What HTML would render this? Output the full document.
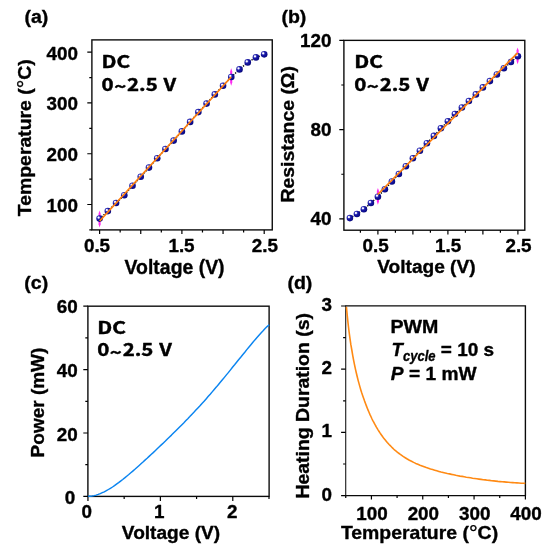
<!DOCTYPE html>
<html lang="en"><head><meta charset="utf-8"><title>Figure</title>
<style>
html,body{margin:0;padding:0;background:#fff;}
svg{display:block}
text{font-family:"Liberation Sans", Arial, Helvetica, sans-serif;font-weight:700;fill:#000;stroke:#000;stroke-width:0.35px;stroke-linejoin:round}
.tk{font-size:19.0px}
.tkx{font-size:18.3px}
.axr{font-size:18.5px}
.axs{font-size:18.3px}
.ax{font-size:19.8px}
.pn{font-size:18.9px}
.kr{font-family:"Noto Sans CJK KR", "Liberation Sans", sans-serif;font-weight:700;font-size:17.5px;stroke-width:0.4px}
.an{font-size:18px}
.dg{font-size:20.5px;font-weight:400}
.fr{fill:none;stroke:#0a0a0a;stroke-width:1.38}
.t{stroke:#000;stroke-width:1.2;fill:none}
</style></head><body>
<svg width="547" height="550" viewBox="0 0 547 550">
<defs>
<radialGradient id="ball" cx="0.35" cy="0.34" r="0.74">
<stop offset="0" stop-color="#ffffff"/><stop offset="0.13" stop-color="#f4f4ff"/><stop offset="0.3" stop-color="#4040c0"/><stop offset="0.45" stop-color="#1616a0"/><stop offset="0.75" stop-color="#0c0c90"/><stop offset="1" stop-color="#060670"/>
</radialGradient>
</defs>
<rect width="547" height="550" fill="#fff"/>

<rect class="fr" x="91.89" y="39.89" width="180.37" height="190.01"/>
<path class="t" d="M99.60 229.9v4.2M140.75 229.9v4.2M181.90 229.9v4.2M223.05 229.9v4.2M264.20 229.9v4.2"/>
<path class="t" d="M120.17 229.9v2.6M161.32 229.9v2.6M202.47 229.9v2.6M243.62 229.9v2.6"/>
<path class="t" d="M91.89 204.50h-4.6M91.89 153.73h-4.6M91.89 102.96h-4.6M91.89 52.19h-4.6"/>
<path class="t" d="M91.89 229.88h-2.6M91.89 179.12h-2.6M91.89 128.34h-2.6M91.89 77.57h-2.6"/>
<text class="tkx" transform="translate(97.00 251.60) scale(1.03 1)" text-anchor="middle">0.5</text>
<text class="tkx" transform="translate(181.50 251.60) scale(1.03 1)" text-anchor="middle">1.5</text>
<text class="tkx" transform="translate(264.90 251.60) scale(1.03 1)" text-anchor="middle">2.5</text>
<text class="tk" transform="translate(78.00 211.90) scale(0.992 1)" text-anchor="end">100</text>
<text class="tk" transform="translate(78.00 161.13) scale(0.992 1)" text-anchor="end">200</text>
<text class="tk" transform="translate(78.00 110.36) scale(0.992 1)" text-anchor="end">300</text>
<text class="tk" transform="translate(78.00 59.59) scale(0.992 1)" text-anchor="end">400</text>
<text class="axr" transform="translate(30.90 137.70) rotate(-90) scale(1.05 1)" text-anchor="middle">Temperature (<tspan class="dg" dy="1">°</tspan><tspan dy="-1">C)</tspan></text>
<text class="ax" transform="translate(174.60 273.90) scale(0.981 1)" text-anchor="middle">Voltage (V)</text>
<text class="pn" transform="translate(24.40 22.80) scale(1.035 1)" text-anchor="start">(a)</text>
<text class="kr" transform="translate(101.60 68.30) scale(1.2 1)" text-anchor="start">DC</text>
<text class="kr" transform="translate(101.60 90.80) scale(1.17 1)" text-anchor="start">0<tspan dy="2.5" dx="0.5">~</tspan><tspan dy="-2.5" dx="0.6">2.5</tspan><tspan dx="0.9"> V</tspan></text>
<polyline fill="none" stroke="#000" stroke-width="1.35" stroke-dasharray="1.3 1.35" points="99.6,218.6 107.8,211.1 116.1,203.0 124.3,195.3 132.5,185.8 140.8,176.8 149.0,167.6 157.2,158.3 165.4,149.0 173.7,140.6 181.9,131.4 190.1,121.9 198.4,112.1 206.6,103.6 214.8,94.4 223.0,85.8 231.3,77.0 239.5,69.4 247.7,62.4 256.0,57.4 264.2,54.4"/>
<path d="M99.6 210.6l1.05 3.2V224.3L99.6 227.5l-1.05 -3.2V213.79999999999998z" fill="#ff2af2"/>
<path d="M231.2 68.3l1.05 3.2V82.5L231.2 85.7l-1.05 -3.2V71.5z" fill="#ff2af2"/>
<circle cx="99.60" cy="218.60" r="3.3" fill="url(#ball)"/>
<circle cx="107.83" cy="211.10" r="3.3" fill="url(#ball)"/>
<circle cx="116.06" cy="203.00" r="3.3" fill="url(#ball)"/>
<circle cx="124.29" cy="195.30" r="3.3" fill="url(#ball)"/>
<circle cx="132.52" cy="185.80" r="3.3" fill="url(#ball)"/>
<circle cx="140.75" cy="176.80" r="3.3" fill="url(#ball)"/>
<circle cx="148.98" cy="167.60" r="3.3" fill="url(#ball)"/>
<circle cx="157.21" cy="158.30" r="3.3" fill="url(#ball)"/>
<circle cx="165.44" cy="149.00" r="3.3" fill="url(#ball)"/>
<circle cx="173.67" cy="140.60" r="3.3" fill="url(#ball)"/>
<circle cx="181.90" cy="131.40" r="3.3" fill="url(#ball)"/>
<circle cx="190.13" cy="121.90" r="3.3" fill="url(#ball)"/>
<circle cx="198.36" cy="112.10" r="3.3" fill="url(#ball)"/>
<circle cx="206.59" cy="103.60" r="3.3" fill="url(#ball)"/>
<circle cx="214.82" cy="94.40" r="3.3" fill="url(#ball)"/>
<circle cx="223.05" cy="85.80" r="3.3" fill="url(#ball)"/>
<circle cx="231.28" cy="77.00" r="3.3" fill="url(#ball)"/>
<circle cx="239.51" cy="69.40" r="3.3" fill="url(#ball)"/>
<circle cx="247.74" cy="62.40" r="3.3" fill="url(#ball)"/>
<circle cx="255.97" cy="57.40" r="3.3" fill="url(#ball)"/>
<circle cx="264.20" cy="54.35" r="3.3" fill="url(#ball)"/>
<path d="M99.7 221L231.2 77" stroke="#ff7f0e" stroke-width="1.75" fill="none"/>
<rect class="fr" x="343.9" y="40.37" width="180.89999999999998" height="189.82999999999998"/>
<path class="t" d="M377.90 230.2v4.2M412.90 230.2v4.2M447.90 230.2v4.2M482.90 230.2v4.2M517.90 230.2v4.2"/>
<path class="t" d="M360.40 230.2v2.6M395.40 230.2v2.6M430.40 230.2v2.6M465.40 230.2v2.6M500.40 230.2v2.6"/>
<path class="t" d="M343.9 218.85h-4.6M343.9 129.61h-4.6M343.9 40.37h-4.6"/>
<path class="t" d="M343.9 174.23h-2.6M343.9 84.99h-2.6"/>
<text class="tkx" transform="translate(375.70 251.60) scale(1.03 1)" text-anchor="middle">0.5</text>
<text class="tkx" transform="translate(448.10 251.60) scale(1.03 1)" text-anchor="middle">1.5</text>
<text class="tkx" transform="translate(518.50 251.60) scale(1.03 1)" text-anchor="middle">2.5</text>
<text class="tkx" transform="translate(331.50 225.35) scale(1.03 1)" text-anchor="end">40</text>
<text class="tkx" transform="translate(331.50 136.11) scale(1.03 1)" text-anchor="end">80</text>
<text class="tkx" transform="translate(331.50 46.87) scale(1.03 1)" text-anchor="end">120</text>
<text class="axr" transform="translate(293.50 134.30) rotate(-90) scale(1.05 1)" text-anchor="middle">Resistance (Ω)</text>
<text class="axs" transform="translate(426.40 273.20) scale(1.045 1)" text-anchor="middle">Voltage (V)</text>
<text class="pn" transform="translate(281.40 22.80) scale(1.035 1)" text-anchor="start">(b)</text>
<text class="kr" transform="translate(354.20 68.10) scale(1.2 1)" text-anchor="start">DC</text>
<text class="kr" transform="translate(354.20 90.70) scale(1.17 1)" text-anchor="start">0<tspan dy="2.5" dx="0.5">~</tspan><tspan dy="-2.5" dx="0.6">2.5</tspan><tspan dx="0.9"> V</tspan></text>
<polyline fill="none" stroke="#000" stroke-width="1.35" stroke-dasharray="1.3 1.35" points="349.9,218.1 356.9,214.0 363.9,209.3 370.9,203.0 377.9,196.7 384.9,189.3 391.9,181.5 398.9,174.0 405.9,166.3 412.9,158.3 419.9,150.7 426.9,143.2 433.9,135.9 440.9,128.3 447.9,121.3 454.9,114.0 461.9,107.5 468.9,101.0 475.9,94.4 482.9,87.4 489.9,81.1 496.9,74.5 503.9,68.3 510.9,62.0 517.9,56.2"/>
<path d="M377.9 187.9l1.05 3.2V201.5L377.9 204.7l-1.05 -3.2V191.1z" fill="#ff2af2"/>
<path d="M517.6 47.4l1.05 3.2V61.05L517.6 64.25l-1.05 -3.2V50.6z" fill="#ff2af2"/>
<circle cx="349.90" cy="218.10" r="3.3" fill="url(#ball)"/>
<circle cx="356.90" cy="214.00" r="3.3" fill="url(#ball)"/>
<circle cx="363.90" cy="209.30" r="3.3" fill="url(#ball)"/>
<circle cx="370.90" cy="203.00" r="3.3" fill="url(#ball)"/>
<circle cx="377.90" cy="196.70" r="3.3" fill="url(#ball)"/>
<circle cx="384.90" cy="189.30" r="3.3" fill="url(#ball)"/>
<circle cx="391.90" cy="181.50" r="3.3" fill="url(#ball)"/>
<circle cx="398.90" cy="174.00" r="3.3" fill="url(#ball)"/>
<circle cx="405.90" cy="166.30" r="3.3" fill="url(#ball)"/>
<circle cx="412.90" cy="158.30" r="3.3" fill="url(#ball)"/>
<circle cx="419.90" cy="150.70" r="3.3" fill="url(#ball)"/>
<circle cx="426.90" cy="143.20" r="3.3" fill="url(#ball)"/>
<circle cx="433.90" cy="135.90" r="3.3" fill="url(#ball)"/>
<circle cx="440.90" cy="128.30" r="3.3" fill="url(#ball)"/>
<circle cx="447.90" cy="121.30" r="3.3" fill="url(#ball)"/>
<circle cx="454.90" cy="114.00" r="3.3" fill="url(#ball)"/>
<circle cx="461.90" cy="107.50" r="3.3" fill="url(#ball)"/>
<circle cx="468.90" cy="101.00" r="3.3" fill="url(#ball)"/>
<circle cx="475.90" cy="94.40" r="3.3" fill="url(#ball)"/>
<circle cx="482.90" cy="87.40" r="3.3" fill="url(#ball)"/>
<circle cx="489.90" cy="81.10" r="3.3" fill="url(#ball)"/>
<circle cx="496.90" cy="74.50" r="3.3" fill="url(#ball)"/>
<circle cx="503.90" cy="68.30" r="3.3" fill="url(#ball)"/>
<circle cx="510.90" cy="62.05" r="3.3" fill="url(#ball)"/>
<circle cx="517.90" cy="56.20" r="3.3" fill="url(#ball)"/>
<path d="M377.7 194.5L517.7 52.8" stroke="#ff7f0e" stroke-width="1.75" fill="none"/>
<rect class="fr" x="87.9" y="306.18" width="181.21" height="190.21999999999997"/>
<path class="t" d="M87.95 496.4v4.5M160.37 496.4v4.5M232.79 496.4v4.5"/>
<path class="t" d="M124.16 496.4v2.6M196.58 496.4v2.6M269.00 496.4v2.6"/>
<path class="t" d="M87.9 496.40h-4.6M87.9 432.99h-4.6M87.9 369.59h-4.6M87.9 306.18h-4.6"/>
<path class="t" d="M87.9 464.70h-2.6M87.9 401.29h-2.6M87.9 337.88h-2.6"/>
<text class="tkx" transform="translate(86.70 517.80) scale(1.03 1)" text-anchor="middle">0</text>
<text class="tkx" transform="translate(159.30 517.80) scale(1.03 1)" text-anchor="middle">1</text>
<text class="tkx" transform="translate(232.30 517.80) scale(1.03 1)" text-anchor="middle">2</text>
<text class="tkx" transform="translate(75.30 503.50) scale(1.03 1)" text-anchor="end">0</text>
<text class="tkx" transform="translate(77.70 440.60) scale(1.03 1)" text-anchor="end">20</text>
<text class="tkx" transform="translate(77.70 377.00) scale(1.03 1)" text-anchor="end">40</text>
<text class="tkx" transform="translate(77.70 312.80) scale(1.03 1)" text-anchor="end">60</text>
<text class="axr" transform="translate(44.40 402.50) rotate(-90) scale(1.027 1)" text-anchor="middle">Power (mW)</text>
<text class="axs" transform="translate(171.00 538.50) scale(1.045 1)" text-anchor="middle">Voltage (V)</text>
<text class="pn" transform="translate(24.30 289.10) scale(1.035 1)" text-anchor="start">(c)</text>
<text class="kr" transform="translate(97.20 333.70) scale(1.2 1)" text-anchor="start">DC</text>
<text class="kr" transform="translate(97.20 356.30) scale(1.17 1)" text-anchor="start">0<tspan dy="2.5" dx="0.5">~</tspan><tspan dy="-2.5" dx="0.6">2.5</tspan><tspan dx="0.9"> V</tspan></text>
<polyline fill="none" stroke="#0a84f0" stroke-width="1.45" stroke-linejoin="round" points="88.1,496.3 90.1,496.2 92.1,496.0 94.2,495.6 96.2,495.1 98.2,494.4 100.3,493.6 102.3,492.7 104.3,491.8 106.4,490.7 108.4,489.5 110.4,488.3 112.5,487.0 114.5,485.6 116.5,484.1 118.6,482.6 120.6,481.1 122.7,479.5 124.7,477.9 126.7,476.2 128.8,474.5 130.8,472.8 132.8,471.1 134.9,469.3 136.9,467.5 138.9,465.7 141.0,463.8 143.0,462.0 145.0,460.1 147.1,458.3 149.1,456.4 151.1,454.5 153.2,452.6 155.2,450.7 157.2,448.8 159.3,446.8 161.3,444.9 163.4,442.9 165.4,441.0 167.4,439.0 169.5,437.0 171.5,435.1 173.5,433.1 175.6,431.0 177.6,429.0 179.6,427.0 181.7,424.9 183.7,422.9 185.7,420.8 187.8,418.7 189.8,416.6 191.8,414.4 193.9,412.3 195.9,410.1 197.9,407.9 200.0,405.7 202.0,403.4 204.1,401.2 206.1,398.9 208.1,396.6 210.2,394.3 212.2,391.9 214.2,389.5 216.3,387.1 218.3,384.7 220.3,382.3 222.4,379.8 224.4,377.4 226.4,374.9 228.5,372.4 230.5,369.9 232.5,367.3 234.6,364.8 236.6,362.3 238.6,359.7 240.7,357.2 242.7,354.7 244.8,352.2 246.8,349.6 248.8,347.2 250.9,344.7 252.9,342.3 254.9,339.9 257.0,337.5 259.0,335.2 261.0,332.9 263.1,330.8 265.1,328.6 267.1,326.6 269.2,324.7"/>
<path class="fr" d="M345.7 305.9H525.4V495.6H345.7"/>
<path d="M345.7 305.29999999999995V496.20000000000005" stroke="#222" stroke-width="1.15" fill="none"/>
<path class="t" d="M371.42 495.6v4.0M422.75 495.6v4.0M474.07 495.6v4.0M525.40 495.6v4.0"/>
<path class="t" d="M345.75 495.6v2.4M397.08 495.6v2.4M448.41 495.6v2.4M499.74 495.6v2.4"/>
<path class="t" d="M345.7 495.60h-4.6M345.7 432.40h-4.6M345.7 369.20h-4.6M345.7 306.00h-4.6"/>
<path class="t" d="M345.7 464.00h-2.6M345.7 400.80h-2.6M345.7 337.60h-2.6"/>
<text class="tkx" transform="translate(372.02 519.80) scale(1.03 1)" text-anchor="middle">100</text>
<text class="tkx" transform="translate(423.35 519.80) scale(1.03 1)" text-anchor="middle">200</text>
<text class="tkx" transform="translate(474.68 519.80) scale(1.03 1)" text-anchor="middle">300</text>
<text class="tkx" transform="translate(526.00 519.80) scale(1.03 1)" text-anchor="middle">400</text>
<text class="tkx" transform="translate(332.00 500.90) scale(1.03 1)" text-anchor="end">0</text>
<text class="tkx" transform="translate(332.00 437.00) scale(1.03 1)" text-anchor="end">1</text>
<text class="tkx" transform="translate(332.00 374.00) scale(1.03 1)" text-anchor="end">2</text>
<text class="tkx" transform="translate(332.00 310.50) scale(1.03 1)" text-anchor="end">3</text>
<text class="axr" transform="translate(308.60 405.80) rotate(-90) scale(1.05 1)" text-anchor="middle">Heating Duration (s)</text>
<text class="axs" transform="translate(419.50 538.50) scale(1.062 1)" text-anchor="middle">Temperature (<tspan class="dg" dy="1">°</tspan><tspan dy="-1">C)</tspan></text>
<text class="pn" transform="translate(287.40 289.10) scale(1.035 1)" text-anchor="start">(d)</text>
<text class="an" transform="translate(390.50 333.30) scale(1.09 1)" text-anchor="start">PWM</text>
<text class="an" transform="translate(391.50 355.90) scale(1.03 1)" text-anchor="start"><tspan font-style="italic">T</tspan></text>
<text class="an" transform="translate(403.00 361.00) scale(0.855 1)" text-anchor="start"><tspan font-style="italic" font-size="15.2">cycle</tspan></text>
<text class="an" transform="translate(440.80 355.90) scale(1.055 1)" text-anchor="start">= 10 s</text>
<text class="an" transform="translate(390.80 379.60) scale(1.065 1)" text-anchor="start"><tspan font-style="italic">P</tspan> = 1 mW</text>
<polyline fill="none" stroke="#ff8a14" stroke-width="1.6" stroke-linejoin="round" points="346.4,306.9 347.3,316.2 348.2,324.5 349.1,332.0 350.0,338.7 350.9,344.9 351.9,350.5 352.8,355.8 353.7,360.6 354.6,365.1 355.5,369.3 356.4,373.3 357.3,377.0 358.2,380.6 359.1,383.9 360.0,387.1 360.9,390.2 361.8,393.1 362.8,395.9 363.7,398.5 364.6,401.1 365.5,403.5 366.4,405.9 367.3,408.2 368.2,410.4 369.1,412.5 370.0,414.6 370.9,416.5 371.8,418.5 372.7,420.3 373.7,422.1 374.6,423.8 375.5,425.5 376.4,427.1 377.3,428.6 378.2,430.1 379.1,431.5 380.0,432.9 380.9,434.2 381.8,435.5 382.7,436.8 383.6,438.0 384.6,439.2 385.5,440.3 386.4,441.4 387.3,442.5 388.2,443.5 389.1,444.5 390.0,445.4 390.9,446.3 391.8,447.2 392.7,448.1 393.6,449.0 394.5,449.8 395.5,450.6 396.4,451.3 397.3,452.1 398.2,452.8 399.1,453.5 400.0,454.2 401.0,454.9 403.1,456.4 405.2,457.7 407.3,459.0 409.4,460.2 411.5,461.3 413.6,462.4 415.7,463.4 417.9,464.3 420.0,465.2 422.1,466.0 424.2,466.8 426.3,467.6 428.4,468.3 430.5,469.0 432.6,469.6 434.7,470.2 436.8,470.8 438.9,471.4 441.0,472.0 443.1,472.5 445.2,473.0 447.3,473.5 449.5,473.9 451.6,474.4 453.7,474.8 455.8,475.3 457.9,475.7 460.0,476.1 462.1,476.4 464.2,476.8 466.3,477.2 468.4,477.5 470.5,477.8 472.6,478.2 474.7,478.5 476.8,478.8 479.0,479.1 481.1,479.4 483.2,479.7 485.3,479.9 487.4,480.2 489.5,480.4 491.6,480.7 493.7,480.9 495.8,481.1 497.9,481.4 500.0,481.6 502.1,481.8 504.2,481.9 506.3,482.1 508.4,482.3 510.6,482.5 512.7,482.6 514.8,482.8 516.9,482.9 519.0,483.0 521.1,483.2 523.2,483.3 525.3,483.4"/>
</svg></body></html>
